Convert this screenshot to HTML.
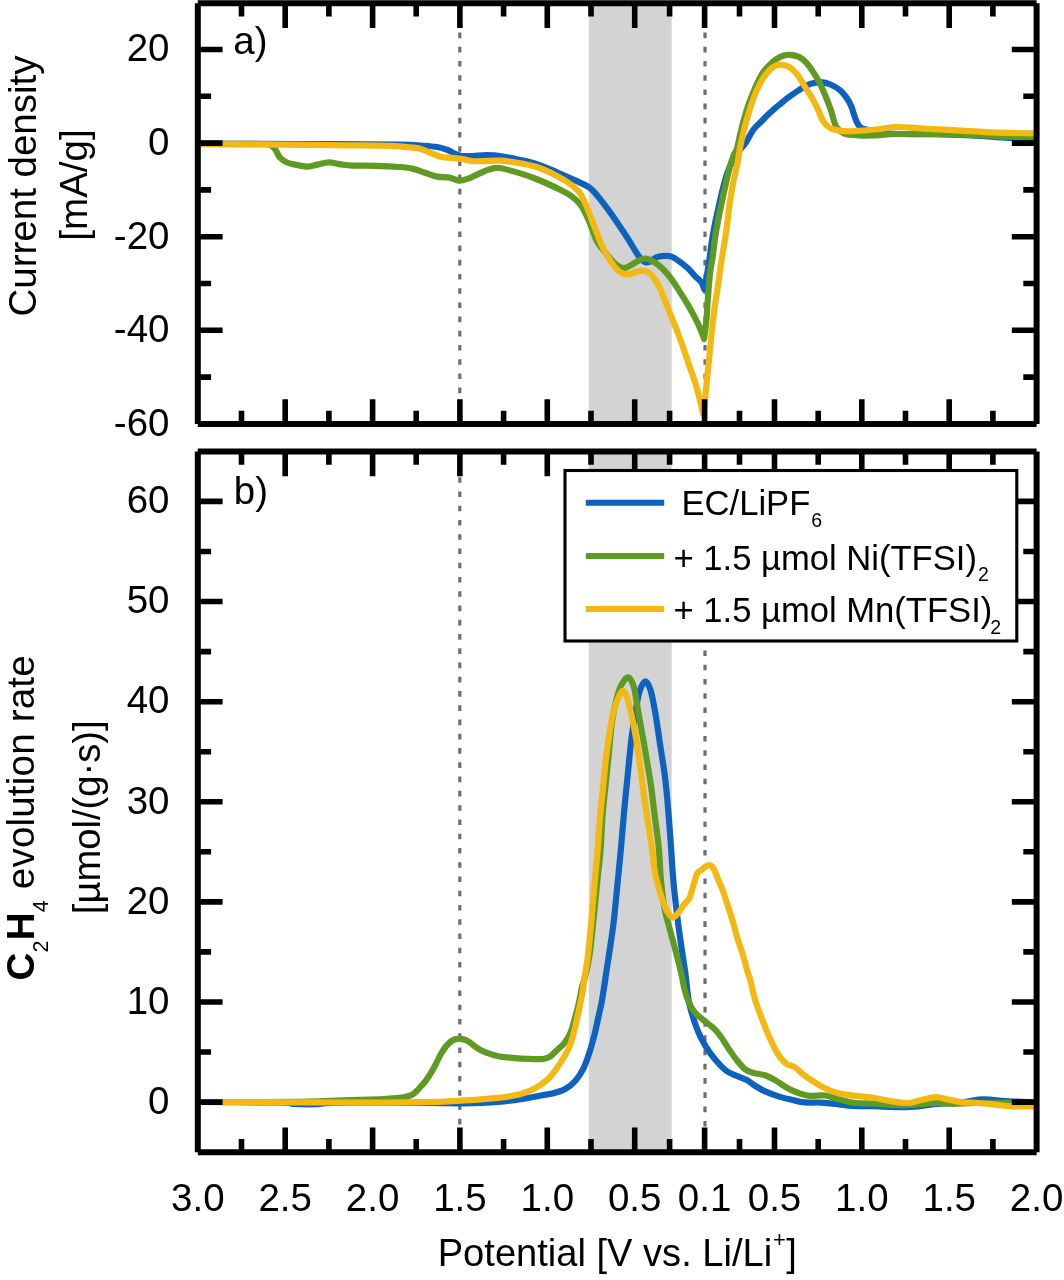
<!DOCTYPE html><html><head><meta charset="utf-8"><style>html,body{margin:0;padding:0;background:#fff;}svg{display:block;}text{font-family:"Liberation Sans",Arial,sans-serif;fill:#000;}</style></head><body>
<svg width="1064" height="1280" viewBox="0 0 1064 1280">
<rect width="1064" height="1280" fill="#fff"/>
<defs><clipPath id="ca"><rect x="197.8" y="3.2" width="838.8" height="420.8"/></clipPath>
<clipPath id="cb"><rect x="197.8" y="451.4" width="838.8" height="700.8"/></clipPath></defs>
<rect x="588.8" y="3.2" width="82.9" height="420.8" fill="#d3d3d3"/>
<line clip-path="url(#ca)" x1="459.8" y1="4.20" x2="459.8" y2="424.0" stroke="#6e6e6e" stroke-width="3.2" stroke-dasharray="5.6 8.600"/>
<line clip-path="url(#ca)" x1="705.0" y1="4.20" x2="705.0" y2="424.0" stroke="#6e6e6e" stroke-width="3.2" stroke-dasharray="5.6 8.600"/>
<rect x="588.8" y="451.4" width="82.9" height="700.8" fill="#d3d3d3"/>
<line clip-path="url(#cb)" x1="459.8" y1="448.70" x2="459.8" y2="1152.2" stroke="#6e6e6e" stroke-width="3.2" stroke-dasharray="5.6 8.657"/>
<line clip-path="url(#cb)" x1="705.0" y1="450.80" x2="705.0" y2="1152.2" stroke="#6e6e6e" stroke-width="3.2" stroke-dasharray="5.6 8.657"/>
<g clip-path="url(#ca)" fill="none" stroke-width="6.2" stroke-linejoin="round" stroke-linecap="round">
<path d="M196.0,143.8 C213.3,143.8 266.0,143.9 300.0,144.0 C334.0,144.1 379.9,144.3 400.0,144.6 C420.1,144.9 414.5,145.2 420.7,145.6 C426.9,146.0 432.7,146.3 437.2,147.0 C441.7,147.7 444.5,148.8 447.6,150.0 C450.7,151.2 453.4,153.1 455.8,154.1 C458.2,155.1 459.2,155.7 462.0,156.0 C464.8,156.3 468.3,156.1 472.4,156.0 C476.5,155.9 482.2,155.2 486.8,155.2 C491.4,155.2 494.7,155.2 500.0,156.0 C505.3,156.8 512.5,158.3 518.8,159.7 C525.1,161.1 531.3,162.3 537.6,164.4 C543.9,166.5 550.1,169.3 556.4,172.0 C562.7,174.7 569.7,177.8 575.2,180.4 C580.7,183.0 585.4,184.7 589.3,187.5 C593.2,190.3 595.6,193.7 598.6,197.2 C601.6,200.7 604.3,204.5 607.2,208.4 C610.1,212.3 612.9,216.2 615.8,220.4 C618.7,224.6 621.5,228.9 624.4,233.3 C627.3,237.7 630.6,243.1 633.0,247.0 C635.4,250.9 637.0,254.0 639.0,256.5 C641.0,259.0 643.2,261.2 645.0,262.0 C646.8,262.8 648.2,262.2 650.0,261.5 C651.8,260.8 653.8,258.4 656.0,257.5 C658.2,256.6 660.5,256.2 663.0,256.0 C665.5,255.8 668.2,255.6 670.8,256.4 C673.4,257.2 675.9,258.9 678.7,260.9 C681.6,262.9 685.2,265.7 687.9,268.2 C690.6,270.7 692.5,273.5 694.7,275.8 C696.9,278.1 699.4,279.5 701.0,281.8 C702.6,284.1 703.9,288.2 704.5,289.5 C705.0,286.2 706.9,275.6 707.8,270.0 C708.7,264.4 709.2,260.8 709.9,256.0 C710.6,251.2 711.0,246.5 711.8,241.5 C712.6,236.5 713.5,231.2 714.5,226.0 C715.5,220.8 716.7,216.0 718.0,210.0 C719.3,204.0 720.9,196.2 722.5,190.0 C724.1,183.8 725.8,177.3 727.5,172.5 C729.2,167.7 730.7,164.5 732.5,161.0 C734.3,157.5 736.4,154.4 738.5,151.5 C740.6,148.6 742.7,147.3 745.2,143.6 C747.7,139.9 750.9,133.1 753.5,129.5 C756.1,125.9 758.5,124.3 761.0,121.8 C763.5,119.3 765.9,116.7 768.4,114.3 C770.9,111.9 773.6,109.5 775.8,107.6 C778.0,105.7 779.4,104.7 781.5,103.0 C783.6,101.3 785.5,99.6 788.2,97.6 C790.9,95.6 794.5,93.0 797.6,91.0 C800.7,89.0 804.3,86.7 807.0,85.4 C809.7,84.1 811.6,83.5 814.0,83.0 C816.4,82.5 818.4,81.8 821.1,82.1 C823.9,82.3 827.4,83.2 830.5,84.5 C833.6,85.8 837.2,87.9 839.9,90.1 C842.6,92.3 844.6,94.9 846.5,97.6 C848.4,100.3 850.0,103.3 851.2,106.1 C852.5,108.9 853.1,111.8 854.0,114.5 C854.9,117.2 855.8,120.0 856.8,122.1 C857.8,124.1 858.6,125.6 860.0,126.8 C861.4,128.0 861.7,128.4 865.0,129.3 C868.3,130.2 874.2,131.7 880.0,132.5 C885.8,133.3 891.0,133.7 900.0,134.0 C909.0,134.3 922.1,133.9 934.0,134.2 C945.9,134.4 959.1,134.9 971.6,135.5 C984.1,136.1 997.6,137.5 1009.0,138.0 C1020.4,138.5 1034.8,138.4 1040.0,138.5" stroke="#0d62c0"/>
<path d="M196.0,143.8 C207.0,143.8 249.7,143.8 262.0,144.0 C274.3,144.2 267.8,144.1 270.0,145.0 C272.2,145.9 273.6,147.2 275.2,149.3 C276.8,151.4 277.9,155.3 279.9,157.5 C281.9,159.7 283.9,161.2 287.0,162.5 C290.1,163.8 295.2,164.6 298.7,165.3 C302.2,166.0 304.9,166.7 308.0,166.6 C311.1,166.5 314.0,165.3 317.5,164.6 C321.0,163.9 325.1,162.3 329.0,162.3 C332.9,162.3 337.1,163.9 341.0,164.4 C344.9,164.9 346.8,165.4 352.7,165.6 C358.6,165.8 368.4,165.6 376.2,165.8 C384.0,166.0 393.7,166.5 399.7,167.0 C405.7,167.5 408.2,167.7 412.4,168.6 C416.6,169.5 420.7,171.4 424.8,172.7 C428.9,174.0 433.1,175.8 437.2,176.6 C441.3,177.4 446.0,176.9 449.6,177.6 C453.2,178.3 455.8,180.4 458.9,180.6 C462.0,180.8 464.9,179.7 468.2,178.6 C471.5,177.5 475.2,175.3 478.6,173.8 C482.1,172.3 485.4,170.6 488.9,169.6 C492.3,168.6 494.3,167.4 499.3,168.0 C504.3,168.6 512.4,171.0 518.8,172.9 C525.2,174.8 531.3,177.0 537.6,179.5 C543.9,182.0 550.9,185.2 556.4,187.9 C561.9,190.6 566.6,192.8 570.5,195.5 C574.4,198.2 577.2,200.7 579.9,204.0 C582.6,207.3 584.5,211.3 586.5,215.5 C588.5,219.7 590.5,225.0 592.1,229.0 C593.7,233.0 594.7,236.7 596.0,239.5 C597.3,242.3 598.3,243.6 600.0,246.0 C601.7,248.4 604.1,251.1 606.3,253.7 C608.4,256.3 610.7,259.5 612.9,261.6 C615.1,263.8 617.5,265.5 619.5,266.6 C621.5,267.7 622.5,268.4 624.7,268.0 C626.9,267.6 630.2,265.5 632.6,264.2 C635.0,262.9 637.0,261.2 639.2,260.3 C641.4,259.4 643.7,258.4 645.8,258.5 C647.9,258.6 650.1,260.1 652.0,261.0 C653.9,261.9 655.1,262.6 657.0,264.0 C658.9,265.4 661.0,267.0 663.4,269.5 C665.8,272.0 668.6,275.4 671.2,278.9 C673.9,282.4 676.4,286.6 679.0,290.6 C681.6,294.6 684.3,298.7 686.9,303.1 C689.5,307.5 692.4,312.6 694.7,317.2 C697.1,321.8 699.5,326.9 701.0,330.5 C702.5,334.1 703.5,337.6 704.0,339.0 C704.4,335.9 705.7,327.3 706.4,320.3 C707.1,313.3 707.4,304.7 708.0,296.9 C708.6,289.1 709.2,280.2 710.0,273.4 C710.8,266.6 711.9,262.4 712.8,256.0 C713.7,249.6 714.4,241.9 715.5,235.0 C716.6,228.1 718.3,219.4 719.2,214.6 C720.1,209.8 720.0,210.5 721.0,206.0 C722.0,201.5 723.6,193.6 725.0,187.5 C726.4,181.4 727.9,174.5 729.3,169.2 C730.7,163.9 732.3,158.8 733.5,155.5 C734.7,152.2 735.7,152.7 736.7,149.5 C737.7,146.3 738.6,141.2 739.7,136.6 C740.8,132.0 742.0,126.8 743.3,121.8 C744.6,116.8 746.1,111.6 747.7,106.9 C749.3,102.2 751.2,97.5 752.8,93.6 C754.4,89.6 755.7,86.5 757.3,83.2 C758.9,79.9 760.5,76.3 762.4,73.5 C764.2,70.7 766.2,68.4 768.4,66.1 C770.6,63.8 773.4,61.2 775.8,59.5 C778.1,57.8 780.1,56.8 782.5,56.0 C784.9,55.2 787.4,54.6 790.2,54.8 C793.0,55.0 796.5,55.7 799.2,57.1 C802.0,58.5 804.2,60.4 806.7,63.1 C809.2,65.8 812.0,70.1 814.2,73.6 C816.5,77.1 818.2,80.1 820.2,84.1 C822.2,88.1 824.4,93.4 826.2,97.7 C828.0,102.0 829.5,106.0 830.8,109.7 C832.1,113.5 832.8,117.2 833.8,120.2 C834.8,123.2 835.0,125.5 836.8,127.7 C838.5,129.9 840.8,132.2 844.3,133.5 C847.8,134.8 853.0,135.0 857.8,135.3 C862.6,135.6 866.5,135.7 872.9,135.5 C879.3,135.3 886.2,134.3 896.4,134.0 C906.6,133.7 921.5,133.7 934.0,133.8 C946.5,133.9 959.1,134.3 971.6,134.8 C984.1,135.3 997.8,136.4 1009.2,136.7 C1020.6,137.0 1034.9,136.7 1040.0,136.7" stroke="#5f9a22"/>
<path d="M196.0,144.2 C210.0,144.3 254.3,144.4 280.0,144.6 C305.7,144.8 331.7,145.1 350.0,145.3 C368.3,145.5 379.8,145.5 390.0,145.9 C400.2,146.3 406.4,147.0 411.5,147.5 C416.6,148.0 417.4,148.0 420.7,148.9 C423.9,149.8 427.6,151.8 431.0,153.1 C434.4,154.4 437.9,156.2 441.4,157.0 C444.8,157.8 448.3,157.5 451.7,157.8 C455.1,158.1 458.6,158.5 462.0,159.0 C465.4,159.5 468.9,160.6 472.4,161.0 C475.8,161.4 478.1,161.2 482.7,161.2 C487.3,161.1 494.0,160.4 500.0,160.7 C506.0,161.0 512.5,161.9 518.8,163.0 C525.1,164.1 531.3,165.2 537.6,167.3 C543.9,169.4 550.9,172.9 556.4,175.7 C561.9,178.5 566.6,181.3 570.5,184.2 C574.4,187.0 577.2,189.1 579.9,192.8 C582.6,196.5 584.5,201.7 586.5,206.3 C588.5,210.9 590.2,215.7 592.1,220.5 C594.0,225.3 596.1,231.0 597.7,235.0 C599.3,239.0 600.1,241.3 601.5,244.5 C602.9,247.7 604.4,250.7 606.3,254.0 C608.2,257.3 610.7,261.5 612.9,264.5 C615.1,267.5 617.1,270.1 619.5,271.8 C621.9,273.5 624.8,274.4 627.4,274.5 C630.0,274.6 632.9,272.7 635.3,272.1 C637.7,271.5 639.7,270.8 641.8,270.8 C643.9,270.8 645.8,270.7 647.8,271.9 C649.8,273.1 652.0,275.5 654.0,278.1 C656.0,280.7 657.7,283.7 659.5,287.5 C661.3,291.3 663.0,296.0 665.0,300.8 C667.0,305.6 669.2,311.2 671.2,316.4 C673.3,321.6 675.5,326.6 677.5,332.0 C679.5,337.4 681.4,342.4 683.5,348.5 C685.6,354.6 688.2,362.4 690.3,368.5 C692.4,374.6 694.3,379.5 695.9,384.9 C697.5,390.3 699.0,396.6 700.1,400.8 C701.2,405.0 701.6,407.6 702.2,410.0 C702.8,412.4 703.3,414.2 703.5,415.0 C703.8,411.8 704.5,404.0 705.4,395.5 C706.2,387.0 707.5,374.4 708.6,363.8 C709.7,353.2 710.7,341.9 711.7,332.2 C712.8,322.5 713.9,313.0 714.9,305.8 C715.9,298.6 716.4,296.3 717.5,289.0 C718.6,281.7 719.9,271.3 721.3,262.0 C722.7,252.7 724.6,242.5 726.0,233.0 C727.4,223.5 728.3,213.3 729.5,205.0 C730.7,196.7 731.7,190.0 733.0,183.3 C734.3,176.6 736.1,170.6 737.2,165.0 C738.3,159.4 738.7,154.7 739.6,150.0 C740.5,145.3 741.3,141.3 742.4,136.6 C743.5,131.9 744.7,126.8 746.1,121.8 C747.5,116.8 749.1,111.5 750.6,106.9 C752.1,102.3 753.5,98.0 755.0,94.3 C756.5,90.6 757.9,87.8 759.5,84.7 C761.1,81.6 762.9,78.4 764.7,75.8 C766.6,73.2 768.6,70.8 770.6,69.1 C772.6,67.4 774.5,66.1 776.5,65.4 C778.5,64.7 780.2,64.4 782.5,64.8 C784.8,65.2 787.7,65.9 790.2,67.6 C792.7,69.3 795.2,71.8 797.7,75.1 C800.2,78.3 802.7,83.1 805.2,87.1 C807.7,91.1 810.5,95.2 812.7,99.2 C815.0,103.2 817.0,107.5 818.7,111.2 C820.5,114.9 821.5,118.5 823.2,121.2 C825.0,123.9 826.7,125.9 829.2,127.5 C831.7,129.1 834.8,130.0 838.3,130.6 C841.8,131.2 845.8,131.4 850.3,131.3 C854.8,131.2 860.3,130.7 865.3,130.3 C870.3,129.9 875.2,129.6 880.4,129.0 C885.6,128.4 889.0,127.1 896.4,127.0 C903.8,126.9 915.2,128.1 924.6,128.6 C934.0,129.1 941.8,129.5 952.8,130.1 C963.8,130.7 975.9,131.7 990.4,132.3 C1004.9,132.9 1031.7,133.3 1040.0,133.5" stroke="#f3b812"/>
</g>
<g clip-path="url(#cb)" fill="none" stroke-width="6.2" stroke-linejoin="round" stroke-linecap="round">
<path d="M196.0,1102.0 C210.0,1102.1 263.8,1102.2 280.0,1102.5 C296.2,1102.8 286.7,1103.7 293.0,1104.0 C299.3,1104.3 311.5,1104.4 318.0,1104.2 C324.5,1104.0 318.3,1103.1 332.0,1102.8 C345.7,1102.5 377.9,1102.5 400.0,1102.6 C422.1,1102.7 448.2,1103.4 464.6,1103.3 C481.0,1103.2 488.5,1102.8 498.4,1102.0 C508.3,1101.2 516.8,1099.8 523.8,1098.7 C530.8,1097.6 535.9,1096.4 540.7,1095.5 C545.5,1094.6 548.4,1094.5 552.4,1093.5 C556.4,1092.5 561.0,1091.4 564.8,1089.3 C568.6,1087.2 572.1,1084.5 575.2,1081.0 C578.3,1077.5 581.0,1073.4 583.4,1068.6 C585.8,1063.8 587.7,1057.9 589.6,1052.0 C591.5,1046.1 593.2,1039.6 594.8,1033.4 C596.3,1027.2 597.7,1020.3 598.9,1014.8 C600.1,1009.3 600.5,1008.9 602.0,1000.3 C603.5,991.7 605.8,975.5 607.7,963.0 C609.6,950.5 611.7,937.8 613.3,925.2 C614.9,912.6 615.9,900.1 617.1,887.6 C618.4,875.1 619.6,863.2 620.8,850.0 C622.0,836.8 623.3,820.5 624.4,808.4 C625.5,796.3 626.5,787.6 627.5,777.2 C628.5,766.8 629.6,755.0 630.6,745.9 C631.6,736.8 632.8,729.5 633.8,722.5 C634.8,715.5 635.9,709.2 636.9,703.8 C637.9,698.4 638.6,693.8 640.0,690.0 C641.4,686.2 643.7,681.1 645.5,681.3 C647.3,681.5 649.2,685.7 650.9,691.3 C652.6,696.9 654.0,705.6 655.6,714.7 C657.2,723.8 658.7,735.5 660.3,745.9 C661.9,756.3 663.7,766.8 665.0,777.2 C666.3,787.6 667.2,798.0 668.1,808.4 C669.0,818.8 669.6,827.8 670.5,839.7 C671.4,851.6 672.2,867.3 673.3,880.0 C674.4,892.7 675.9,905.1 677.2,915.8 C678.5,926.5 679.7,934.6 681.0,944.0 C682.3,953.4 683.8,962.2 685.2,972.0 C686.6,981.8 687.2,993.5 689.2,1003.0 C691.2,1012.5 694.5,1022.2 697.2,1029.3 C699.9,1036.4 702.3,1040.6 705.4,1045.8 C708.5,1051.0 712.3,1056.2 715.8,1060.3 C719.2,1064.4 722.7,1068.0 726.1,1070.6 C729.5,1073.2 733.0,1074.2 736.4,1075.8 C739.8,1077.4 743.9,1078.5 746.8,1080.0 C749.7,1081.5 750.6,1083.1 753.8,1085.0 C756.9,1086.9 761.5,1089.7 765.7,1091.6 C769.9,1093.5 774.7,1095.2 779.2,1096.6 C783.7,1098.0 788.5,1099.0 792.7,1100.0 C796.9,1101.0 799.8,1102.0 804.6,1102.4 C809.4,1102.8 815.9,1102.3 821.5,1102.6 C827.1,1102.9 833.3,1103.7 838.4,1104.3 C843.5,1104.9 846.4,1105.7 852.0,1106.0 C857.6,1106.3 862.5,1106.0 872.3,1106.2 C882.1,1106.4 900.2,1107.4 910.8,1107.0 C921.4,1106.6 927.6,1104.8 936.1,1104.0 C944.6,1103.2 954.5,1103.2 961.5,1102.5 C968.5,1101.8 973.6,1100.0 978.4,1099.5 C983.1,1099.0 985.8,1099.2 990.0,1099.5 C994.2,1099.8 995.5,1100.5 1003.8,1101.0 C1012.1,1101.5 1034.0,1102.2 1040.0,1102.5" stroke="#0d62c0"/>
<path d="M196.0,1102.0 C213.3,1102.0 274.3,1102.1 300.0,1101.8 C325.7,1101.5 336.7,1100.6 350.0,1100.2 C363.3,1099.8 372.2,1099.6 380.0,1099.3 C387.8,1099.0 392.1,1098.7 396.9,1098.2 C401.7,1097.7 405.9,1096.9 408.8,1096.1 C411.7,1095.3 412.1,1095.0 414.0,1093.6 C415.9,1092.2 418.1,1089.6 420.0,1087.5 C421.9,1085.4 423.3,1084.2 425.7,1080.9 C428.1,1077.6 431.6,1071.9 434.1,1067.4 C436.6,1062.9 438.6,1057.8 440.9,1054.0 C443.2,1050.2 445.4,1046.9 447.7,1044.5 C449.9,1042.1 452.1,1040.4 454.4,1039.5 C456.6,1038.6 458.9,1038.6 461.2,1038.9 C463.5,1039.2 465.5,1039.6 468.0,1041.1 C470.5,1042.5 473.6,1045.8 476.4,1047.6 C479.2,1049.4 481.2,1050.7 484.9,1052.1 C488.6,1053.5 493.3,1055.2 498.4,1056.2 C503.5,1057.2 509.6,1057.6 515.3,1058.1 C520.9,1058.6 527.7,1058.8 532.3,1059.0 C536.9,1059.2 540.0,1059.4 543.0,1059.0 C546.0,1058.6 547.8,1058.0 550.0,1056.6 C552.2,1055.2 554.0,1052.8 556.5,1050.5 C559.0,1048.2 562.4,1045.9 564.8,1042.7 C567.2,1039.5 569.3,1035.7 571.0,1031.4 C572.7,1027.1 573.9,1021.8 575.2,1017.0 C576.5,1012.2 577.9,1007.2 579.0,1002.4 C580.1,997.6 580.7,992.6 581.8,988.0 C582.9,983.4 584.2,980.8 585.5,975.0 C586.8,969.2 588.4,963.3 589.8,953.4 C591.2,943.5 592.6,928.3 593.9,915.8 C595.2,903.3 596.5,889.2 597.6,878.2 C598.7,867.2 599.8,860.3 600.6,850.0 C601.4,839.7 601.7,827.1 602.5,816.3 C603.3,805.5 604.6,795.4 605.6,785.0 C606.6,774.6 607.8,764.2 608.8,753.8 C609.8,743.4 610.6,731.6 611.9,722.5 C613.2,713.4 615.0,705.2 616.6,699.0 C618.2,692.8 619.3,688.6 621.3,685.0 C623.2,681.4 626.2,677.0 628.3,677.3 C630.4,677.6 632.4,682.2 633.8,686.6 C635.2,691.0 635.6,696.5 636.9,703.8 C638.2,711.1 640.0,721.4 641.6,730.3 C643.2,739.1 644.8,747.8 646.3,756.9 C647.8,766.0 649.5,775.1 650.9,785.0 C652.3,794.9 653.5,805.9 654.8,816.3 C656.1,826.7 657.8,837.2 658.8,847.5 C659.8,857.8 659.9,868.4 660.8,878.2 C661.7,888.0 662.6,898.0 664.1,906.4 C665.6,914.8 667.8,921.7 669.7,928.9 C671.6,936.1 673.4,942.4 675.3,949.6 C677.2,956.8 679.4,965.5 681.0,972.2 C682.6,978.9 683.4,985.0 684.7,990.0 C686.0,995.0 687.2,998.6 688.9,1002.4 C690.6,1006.2 692.7,1009.8 695.1,1012.7 C697.5,1015.6 700.3,1017.4 703.4,1020.0 C706.5,1022.6 710.9,1025.7 713.7,1028.3 C716.5,1030.9 717.5,1032.2 720.0,1035.5 C722.5,1038.8 725.7,1044.3 728.5,1048.4 C731.3,1052.5 734.1,1056.8 736.9,1060.3 C739.7,1063.8 742.6,1067.5 745.4,1069.6 C748.2,1071.7 750.4,1072.0 753.8,1073.0 C757.2,1074.0 762.0,1074.2 765.7,1075.5 C769.4,1076.8 772.1,1078.5 775.8,1080.6 C779.5,1082.7 783.8,1086.1 787.7,1088.2 C791.7,1090.3 795.8,1092.0 799.5,1093.3 C803.2,1094.6 805.5,1095.4 809.7,1095.8 C813.9,1096.2 820.1,1094.9 824.9,1095.5 C829.7,1096.1 833.3,1098.0 838.4,1099.2 C843.5,1100.5 849.6,1102.3 855.3,1103.0 C860.9,1103.7 865.9,1103.2 872.3,1103.5 C878.7,1103.8 887.4,1104.8 893.8,1105.0 C900.2,1105.2 903.8,1105.3 910.8,1105.0 C917.8,1104.7 929.1,1103.2 936.1,1103.0 C943.1,1102.8 946.0,1103.8 953.0,1103.8 C960.0,1103.8 963.9,1103.1 978.4,1103.0 C992.9,1102.9 1029.7,1103.0 1040.0,1103.0" stroke="#5f9a22"/>
<path d="M196.0,1102.0 C226.7,1102.1 340.9,1102.5 380.0,1102.5 C419.1,1102.5 416.7,1102.3 430.8,1102.0 C444.9,1101.7 453.3,1101.1 464.6,1100.4 C475.9,1099.7 489.9,1098.7 498.4,1097.8 C506.8,1096.9 510.2,1096.4 515.3,1095.3 C520.4,1094.2 524.9,1092.7 528.9,1091.1 C532.9,1089.5 535.9,1087.9 539.5,1085.5 C543.1,1083.1 546.8,1080.6 550.3,1076.8 C553.8,1073.0 557.6,1067.2 560.7,1062.4 C563.8,1057.6 566.8,1053.1 569.0,1047.9 C571.2,1042.7 572.5,1037.6 574.1,1031.4 C575.7,1025.2 577.5,1016.8 578.8,1010.7 C580.1,1004.6 581.0,1001.0 582.0,995.0 C583.0,989.0 584.0,981.9 585.0,975.0 C586.0,968.1 587.1,963.3 588.2,953.4 C589.3,943.5 590.7,928.3 591.8,915.8 C592.9,903.3 594.0,888.8 595.0,878.2 C596.0,867.6 596.8,861.0 597.5,852.0 C598.2,843.0 598.6,833.9 599.4,824.0 C600.2,814.1 601.5,803.2 602.5,792.8 C603.5,782.4 604.6,770.7 605.6,761.6 C606.6,752.5 607.8,745.0 608.8,738.0 C609.8,731.0 610.6,725.5 611.9,719.4 C613.2,713.3 615.0,706.2 616.8,701.5 C618.6,696.8 620.8,691.6 622.5,691.0 C624.2,690.4 625.7,694.0 627.2,698.0 C628.7,702.0 630.0,708.0 631.5,714.7 C633.0,721.4 634.5,728.9 636.0,738.0 C637.5,747.1 639.0,759.0 640.5,769.4 C642.0,779.8 643.2,790.2 644.7,800.6 C646.2,811.0 648.1,823.3 649.4,831.9 C650.7,840.5 651.6,845.2 652.5,852.0 C653.4,858.8 653.7,865.7 655.0,872.6 C656.3,879.5 658.5,887.1 660.3,893.2 C662.1,899.3 663.8,905.0 665.9,909.0 C668.0,913.0 670.6,917.0 672.8,917.5 C675.0,918.0 677.1,914.2 679.0,912.0 C680.9,909.8 682.2,906.8 684.0,904.5 C685.8,902.2 687.9,901.5 689.5,898.1 C691.1,894.8 692.4,888.5 693.7,884.4 C695.0,880.3 695.9,875.9 697.2,873.5 C698.5,871.1 700.1,871.0 701.5,869.8 C702.9,868.6 704.5,867.1 705.8,866.3 C707.1,865.5 708.1,864.9 709.2,865.0 C710.3,865.1 711.5,865.7 712.6,867.2 C713.8,868.7 715.0,871.5 716.1,874.1 C717.2,876.7 718.4,879.8 719.5,882.6 C720.6,885.5 721.9,888.1 723.0,891.2 C724.1,894.4 725.3,898.0 726.4,901.5 C727.5,905.0 728.6,908.3 729.8,911.9 C730.9,915.5 732.1,919.0 733.3,923.0 C734.4,927.0 735.6,932.0 736.7,935.9 C737.8,939.8 739.0,942.6 740.1,946.2 C741.2,949.8 742.5,953.4 743.6,957.4 C744.8,961.4 745.9,966.1 747.0,970.0 C748.1,973.9 749.1,975.6 750.5,980.8 C751.9,986.0 753.5,994.6 755.5,1001.1 C757.5,1007.6 760.0,1013.8 762.3,1019.7 C764.6,1025.6 766.6,1031.0 769.1,1036.6 C771.6,1042.2 774.7,1049.0 777.5,1053.5 C780.3,1058.0 783.2,1061.3 786.0,1063.6 C788.8,1065.8 791.3,1065.0 794.4,1067.0 C797.5,1069.0 801.2,1073.0 804.6,1075.5 C808.0,1078.0 811.3,1080.2 814.7,1082.3 C818.1,1084.4 821.0,1086.4 824.9,1088.2 C828.8,1090.0 833.3,1092.0 838.4,1093.3 C843.5,1094.6 849.6,1095.1 855.3,1095.8 C860.9,1096.5 866.6,1096.7 872.3,1097.5 C877.9,1098.3 883.4,1100.0 889.2,1100.9 C895.1,1101.8 902.4,1103.1 907.4,1103.0 C912.4,1102.9 914.4,1101.5 919.2,1100.5 C924.0,1099.5 931.3,1097.2 936.1,1097.1 C940.9,1096.9 943.8,1098.8 948.0,1099.6 C952.2,1100.4 956.4,1101.5 961.5,1102.1 C966.6,1102.7 972.8,1102.6 978.4,1103.0 C984.0,1103.4 989.6,1104.1 995.3,1104.7 C1000.9,1105.3 1004.8,1106.1 1012.3,1106.4 C1019.8,1106.7 1035.4,1106.4 1040.0,1106.4" stroke="#f3b812"/>
</g>
<path d="M285.2,3.2V28.0 M285.2,424.0V399.2 M372.6,3.2V28.0 M372.6,424.0V399.2 M459.9,3.2V28.0 M459.9,424.0V399.2 M547.3,3.2V28.0 M547.3,424.0V399.2 M634.7,3.2V28.0 M634.7,424.0V399.2 M704.6,3.2V28.0 M704.6,424.0V399.2 M774.5,3.2V28.0 M774.5,424.0V399.2 M861.8,3.2V28.0 M861.8,424.0V399.2 M949.2,3.2V28.0 M949.2,424.0V399.2 M241.5,3.2V16.5 M241.5,424.0V410.7 M328.9,3.2V16.5 M328.9,424.0V410.7 M416.2,3.2V16.5 M416.2,424.0V410.7 M503.6,3.2V16.5 M503.6,424.0V410.7 M591.0,3.2V16.5 M591.0,424.0V410.7 M669.6,3.2V16.5 M669.6,424.0V410.7 M739.5,3.2V16.5 M739.5,424.0V410.7 M818.2,3.2V16.5 M818.2,424.0V410.7 M905.5,3.2V16.5 M905.5,424.0V410.7 M992.9,3.2V16.5 M992.9,424.0V410.7 M285.2,451.4V476.2 M285.2,1152.2V1127.4 M372.6,451.4V476.2 M372.6,1152.2V1127.4 M459.9,451.4V476.2 M459.9,1152.2V1127.4 M547.3,451.4V476.2 M547.3,1152.2V1127.4 M634.7,451.4V476.2 M634.7,1152.2V1127.4 M704.6,451.4V476.2 M704.6,1152.2V1127.4 M774.5,451.4V476.2 M774.5,1152.2V1127.4 M861.8,451.4V476.2 M861.8,1152.2V1127.4 M949.2,451.4V476.2 M949.2,1152.2V1127.4 M241.5,451.4V464.7 M241.5,1152.2V1138.9 M328.9,451.4V464.7 M328.9,1152.2V1138.9 M416.2,451.4V464.7 M416.2,1152.2V1138.9 M503.6,451.4V464.7 M503.6,1152.2V1138.9 M591.0,451.4V464.7 M591.0,1152.2V1138.9 M669.6,451.4V464.7 M669.6,1152.2V1138.9 M739.5,451.4V464.7 M739.5,1152.2V1138.9 M818.2,451.4V464.7 M818.2,1152.2V1138.9 M905.5,451.4V464.7 M905.5,1152.2V1138.9 M992.9,451.4V464.7 M992.9,1152.2V1138.9 M197.8,49.5H222.6 M1036.6,49.5H1011.8 M197.8,143.1H222.6 M1036.6,143.1H1011.8 M197.8,236.7H222.6 M1036.6,236.7H1011.8 M197.8,330.3H222.6 M1036.6,330.3H1011.8 M197.8,96.3H211.1 M1036.6,96.3H1023.3 M197.8,189.9H211.1 M1036.6,189.9H1023.3 M197.8,283.5H211.1 M1036.6,283.5H1023.3 M197.8,377.1H211.1 M1036.6,377.1H1023.3 M197.8,1102.1H222.6 M1036.6,1102.1H1011.8 M197.8,1002.0H222.6 M1036.6,1002.0H1011.8 M197.8,901.9H222.6 M1036.6,901.9H1011.8 M197.8,801.8H222.6 M1036.6,801.8H1011.8 M197.8,701.7H222.6 M1036.6,701.7H1011.8 M197.8,601.5H222.6 M1036.6,601.5H1011.8 M197.8,501.4H222.6 M1036.6,501.4H1011.8 M197.8,1052.0H211.1 M1036.6,1052.0H1023.3 M197.8,951.9H211.1 M1036.6,951.9H1023.3 M197.8,851.8H211.1 M1036.6,851.8H1023.3 M197.8,751.7H211.1 M1036.6,751.7H1023.3 M197.8,651.6H211.1 M1036.6,651.6H1023.3 M197.8,551.5H211.1 M1036.6,551.5H1023.3" stroke="#000" stroke-width="5.6" fill="none"/>
<path d="M197.8,3.2V424.0 M1036.6,3.2V424.0 M197.8,3.2H1036.6 M197.8,424.0H1036.6 M197.8,451.4V1152.2 M1036.6,451.4V1152.2 M197.8,451.4H1036.6 M197.8,1152.2H1036.6" stroke="#000" stroke-width="6.0" fill="none" stroke-linecap="butt"/>
<rect x="565.0" y="470.5" width="451.8" height="170.5" fill="#fff" stroke="#000" stroke-width="3.1"/>
<line x1="585.8" y1="502.8" x2="664.2" y2="502.8" stroke="#0d62c0" stroke-width="6"/>
<line x1="585.8" y1="556.0" x2="664.2" y2="556.0" stroke="#5f9a22" stroke-width="6"/>
<line x1="585.8" y1="609.0" x2="664.2" y2="609.0" stroke="#f3b812" stroke-width="6"/>
<text transform="translate(681.50,515.30) scale(1,1.030)" font-size="34.60">EC/LiPF<tspan font-size="19.5" dx="1" dy="11">6</tspan></text>
<text transform="translate(673.50,569.60) scale(1,1.030)" font-size="34.60">+ 1.5 µmol Ni(TFSI)<tspan font-size="19.5" dx="1" dy="11.5">2</tspan></text>
<text transform="translate(673.50,622.10) scale(1,1.030)" font-size="34.60">+ 1.5 µmol Mn(TFSI)<tspan font-size="19.5" dx="-2" dy="11.5">2</tspan></text>
<text transform="translate(197.80,1211.20) scale(1,1.030)" font-size="38.50" text-anchor="middle">3.0</text>
<text transform="translate(285.18,1211.20) scale(1,1.030)" font-size="38.50" text-anchor="middle">2.5</text>
<text transform="translate(372.55,1211.20) scale(1,1.030)" font-size="38.50" text-anchor="middle">2.0</text>
<text transform="translate(459.93,1211.20) scale(1,1.030)" font-size="38.50" text-anchor="middle">1.5</text>
<text transform="translate(547.30,1211.20) scale(1,1.030)" font-size="38.50" text-anchor="middle">1.0</text>
<text transform="translate(634.67,1211.20) scale(1,1.030)" font-size="38.50" text-anchor="middle">0.5</text>
<text transform="translate(704.58,1211.20) scale(1,1.030)" font-size="38.50" text-anchor="middle">0.1</text>
<text transform="translate(774.47,1211.20) scale(1,1.030)" font-size="38.50" text-anchor="middle">0.5</text>
<text transform="translate(861.85,1211.20) scale(1,1.030)" font-size="38.50" text-anchor="middle">1.0</text>
<text transform="translate(949.22,1211.20) scale(1,1.030)" font-size="38.50" text-anchor="middle">1.5</text>
<text transform="translate(1036.60,1211.20) scale(1,1.030)" font-size="38.50" text-anchor="middle">2.0</text>
<text transform="translate(169.50,61.28) scale(1,1.030)" font-size="38.50" text-anchor="end">20</text>
<text transform="translate(169.50,154.90) scale(1,1.030)" font-size="38.50" text-anchor="end">0</text>
<text transform="translate(169.50,248.52) scale(1,1.030)" font-size="38.50" text-anchor="end">-20</text>
<text transform="translate(169.50,342.14) scale(1,1.030)" font-size="38.50" text-anchor="end">-40</text>
<text transform="translate(169.50,435.76) scale(1,1.030)" font-size="38.50" text-anchor="end">-60</text>
<text transform="translate(169.50,1113.90) scale(1,1.030)" font-size="38.50" text-anchor="end">0</text>
<text transform="translate(169.50,1013.79) scale(1,1.030)" font-size="38.50" text-anchor="end">10</text>
<text transform="translate(169.50,913.68) scale(1,1.030)" font-size="38.50" text-anchor="end">20</text>
<text transform="translate(169.50,813.57) scale(1,1.030)" font-size="38.50" text-anchor="end">30</text>
<text transform="translate(169.50,713.46) scale(1,1.030)" font-size="38.50" text-anchor="end">40</text>
<text transform="translate(169.50,613.35) scale(1,1.030)" font-size="38.50" text-anchor="end">50</text>
<text transform="translate(169.50,513.24) scale(1,1.030)" font-size="38.50" text-anchor="end">60</text>
<text transform="translate(233.30,53.70) scale(1,1.030)" font-size="38.50">a)</text>
<text transform="translate(233.80,503.70) scale(1,1.030)" font-size="38.50">b)</text>
<text transform="translate(617.30,1266.00) scale(1,1.030)" font-size="38.10" text-anchor="middle">Potential [V vs. Li/Li<tspan font-size="22" dx="0.8" dy="-18.5">+</tspan><tspan dx="0.5" dy="18.5">]</tspan></text>
<text transform="translate(35.80,186.00) rotate(-90) scale(1,1.030)" font-size="38.50" text-anchor="middle">Current density</text>
<text transform="translate(87.00,185.00) rotate(-90) scale(1,1.030)" font-size="38.50" text-anchor="middle">[mA/g]</text>
<text transform="translate(34.30,980.40) rotate(-90) scale(1,1.030)" font-size="38.50" letter-spacing="0.2"><tspan font-weight="bold">C</tspan><tspan font-size="21.5" dy="13.4">2</tspan><tspan font-weight="bold" dy="-13.4">H</tspan><tspan font-size="21.5" dy="13.4">4</tspan><tspan dy="-13.4"> evolution rate</tspan></text>
<text transform="translate(100.00,817.30) rotate(-90) scale(1,1.030)" font-size="38.20" text-anchor="middle">[µmol/(g·s)]</text>
</svg></body></html>
